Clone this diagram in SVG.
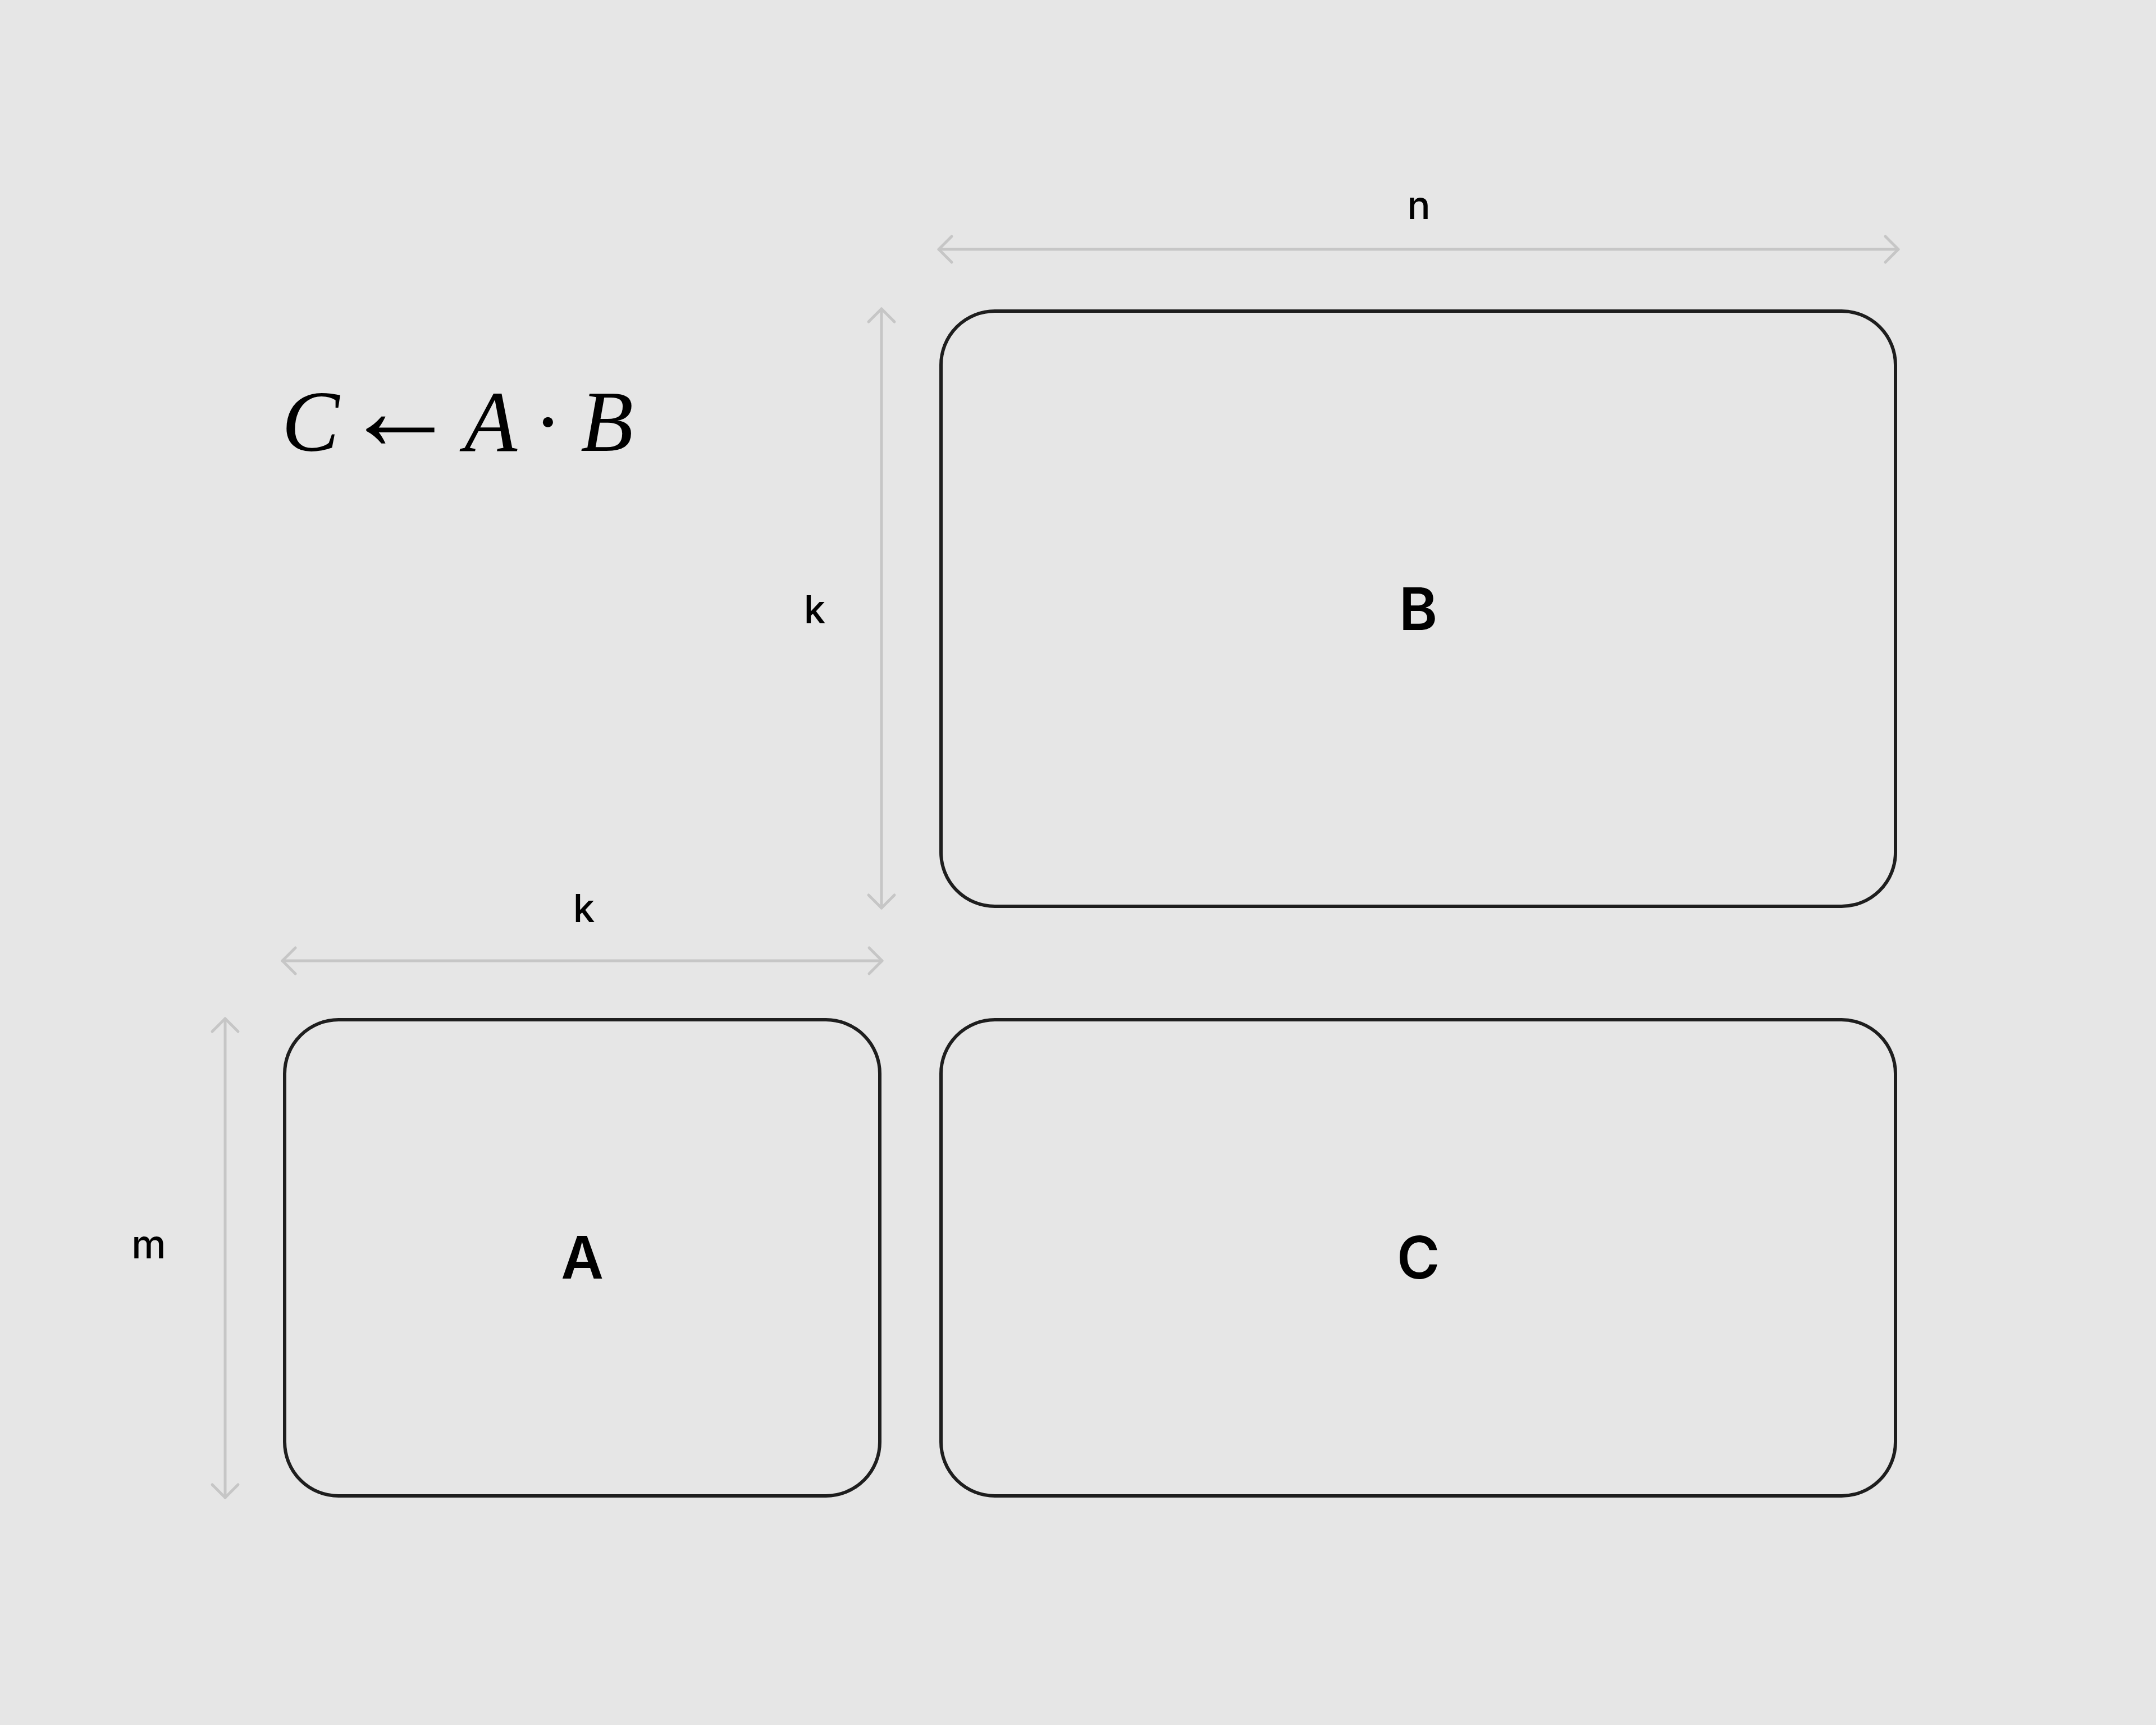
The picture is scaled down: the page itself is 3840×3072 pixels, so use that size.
<svg xmlns="http://www.w3.org/2000/svg" width="3840" height="3072" viewBox="0 0 3840 3072">
  <style>
    .node { fill: none; stroke: #1e1e1e; stroke-width: 6; }
    .dim { fill: none; stroke: #c6c6c6; stroke-width: 5; stroke-linecap: round; }
    .lbl { font-family: Inter, "Liberation Sans", sans-serif; font-size: 69px; font-weight: 500; fill: #000; text-anchor: middle; }
    .big { font-family: Inter, "Liberation Sans", sans-serif; font-size: 104px; font-weight: 600; fill: #000; text-anchor: middle; }
    .mi { font-family: "Liberation Serif", "DejaVu Serif", serif; font-style: italic; font-size: 154px; fill: #000; text-anchor: middle; }
    .mo { font-family: "Liberation Serif", "DejaVu Serif", serif; font-size: 154px; fill: #000; text-anchor: middle; }
    .arr { font-family: "Liberation Serif", "DejaVu Serif", serif; font-size: 205px; fill: #000; text-anchor: middle; }
  </style>
  <defs>
    <marker id="head" viewBox="-30 -30 60 60" refX="0" refY="0" markerWidth="60" markerHeight="60" markerUnits="userSpaceOnUse" orient="auto-start-reverse" overflow="visible">
      <path d="M-23,-23 L0,0 L-23,23" fill="none" stroke="#c6c6c6" stroke-width="5" stroke-linecap="round" stroke-linejoin="round"/>
    </marker>
  </defs>
  <rect x="0" y="0" width="3840" height="3072" fill="#e6e6e6"/>

  <g id="formula">
    <text class="mi" x="553" y="803">C</text>
    <text class="arr" x="713" y="800">←</text>
    <text class="mi" x="874" y="803">A</text>
    <text class="mo" x="976" y="803">·</text>
    <text class="mi" x="1081" y="803">B</text>
  </g>

  <g id="connectors">
    <line class="dim" x1="1672" y1="444" x2="3381" y2="444" marker-start="url(#head)" marker-end="url(#head)"/>
    <line class="dim" x1="1570" y1="550" x2="1570" y2="1617" marker-start="url(#head)" marker-end="url(#head)"/>
    <line class="dim" x1="503" y1="1711" x2="1571" y2="1711" marker-start="url(#head)" marker-end="url(#head)"/>
    <line class="dim" x1="401" y1="1814" x2="401" y2="2667" marker-start="url(#head)" marker-end="url(#head)"/>
  </g>

  <g id="dim-labels">
    <text class="lbl" x="2527" y="390">n</text>
    <text class="lbl" x="1451" y="1110">k</text>
    <text class="lbl" x="1040" y="1642">k</text>
    <text class="lbl" x="265" y="2241">m</text>
  </g>

  <g id="node-B">
    <rect class="node" x="1676" y="554" width="1700" height="1060" rx="96" ry="96"/>
    <text class="big" x="2526" y="1122">B</text>
  </g>
  <g id="node-A">
    <rect class="node" x="507" y="1816" width="1060" height="848" rx="96" ry="96"/>
    <text class="big" x="1037" y="2277">A</text>
  </g>
  <g id="node-C">
    <rect class="node" x="1676" y="1816" width="1700" height="848" rx="96" ry="96"/>
    <text class="big" x="2526" y="2277">C</text>
  </g>
</svg>
